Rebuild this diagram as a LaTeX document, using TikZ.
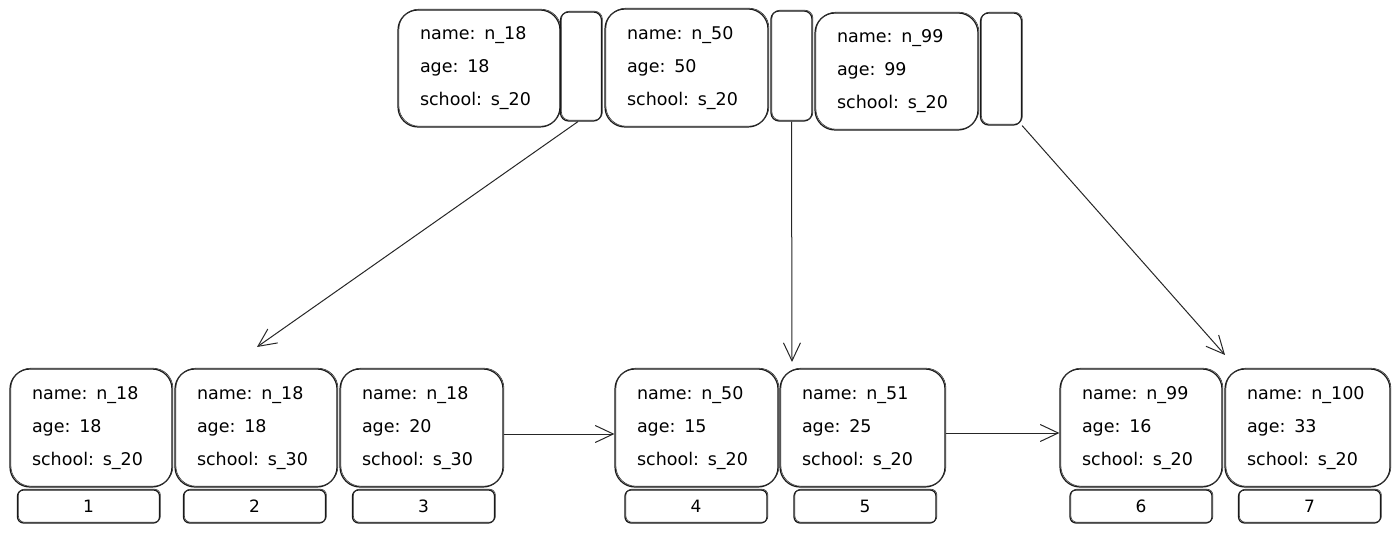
\documentclass[tikz,border=0pt]{standalone}
\usepackage{fontspec}
\setmainfont{DejaVu Sans}
\usetikzlibrary{arrows.meta}
\tikzset{
  sketch/.style={postaction={draw=black!80, line width=0.6pt, transform canvas={shift={(0.9pt,0.8pt)}}}},
  rec/.style={draw=black!90, line width=1.2pt, rounded corners=20pt, inner sep=0pt,
    minimum height=118pt, align=left, text width=#1-44pt, minimum width=#1,
    font=\fontsize{17.5}{33}\selectfont, sketch},
  ptr/.style={draw=black!90, line width=1.2pt, rounded corners=8pt, inner sep=0pt,
    minimum width=41pt, sketch},
  lab/.style={draw=black!90, line width=1.2pt, rounded corners=6pt, inner sep=0pt,
    minimum width=142pt, minimum height=33pt, font=\fontsize{17}{20}\selectfont, sketch},
  arr/.style={draw=black!85, line width=1pt, -{Straight Barb[length=18pt,width=17pt,line width=1pt]}},
}
\begin{document}
\begin{tikzpicture}[x=1pt,y=-1pt]
\useasboundingbox (0,0) rectangle (1400,534);
% top row
\node[rec=162pt, minimum height=117pt] (T1) at (479,68.5) {name: n\_18\\age: 18\\school: s\_20};
\node[ptr, minimum height=109pt] (P1) at (581,66.5) {};
\node[rec=163pt] (T2) at (686.5,68) {name: n\_50\\age: 50\\school: s\_20};
\node[ptr, minimum height=110pt] (P2) at (791.5,66) {};
\node[rec=163pt, minimum height=117pt] (T3) at (896.5,71.5) {name: n\_99\\age: 99\\school: s\_20};
\node[ptr, minimum height=112pt] (P3) at (1001,69) {};
% bottom row
\node[rec=162pt] (B1) at (91,428) {name: n\_18\\age: 18\\school: s\_20};
\node[rec=162pt] (B2) at (256,428) {name: n\_18\\age: 18\\school: s\_30};
\node[rec=163pt] (B3) at (421.5,428) {name: n\_18\\age: 20\\school: s\_30};
\node[rec=163pt] (B4) at (696.5,428) {name: n\_50\\age: 15\\school: s\_20};
\node[rec=165pt] (B5) at (862.5,428) {name: n\_51\\age: 25\\school: s\_20};
\node[rec=162pt] (B6) at (1141,428) {name: n\_99\\age: 16\\school: s\_20};
\node[rec=165pt] (B7) at (1307.5,428) {name: n\_100\\age: 33\\school: s\_20};
% labels
\node[lab] (L1) at (88.5,506.5) {1};
\node[lab] (L2) at (254.5,506.5) {2};
\node[lab] (L3) at (423.5,506.5) {3};
\node[lab] (L4) at (696,506.5) {4};
\node[lab] (L5) at (865,506.5) {5};
\node[lab] (L6) at (1141,506.5) {6};
\node[lab] (L7) at (1309.5,506.5) {7};
% arrow ends
\coordinate (e1) at (257,347);
\coordinate (e2) at (792,362);
\coordinate (e3) at (1225,355);
% connectors
\draw[arr] ([xshift=-3pt]P1.south) -- (e1);
\draw[arr] (P2.south) -- (e2);
\draw[arr] (P3.south east) -- (e3);
\draw[arr] ([yshift=-6pt]B3.east) -- ([yshift=-6pt]B4.west);
\draw[arr] ([yshift=-5pt]B5.east) -- ([yshift=-5pt]B6.west);
\end{tikzpicture}
\end{document}
